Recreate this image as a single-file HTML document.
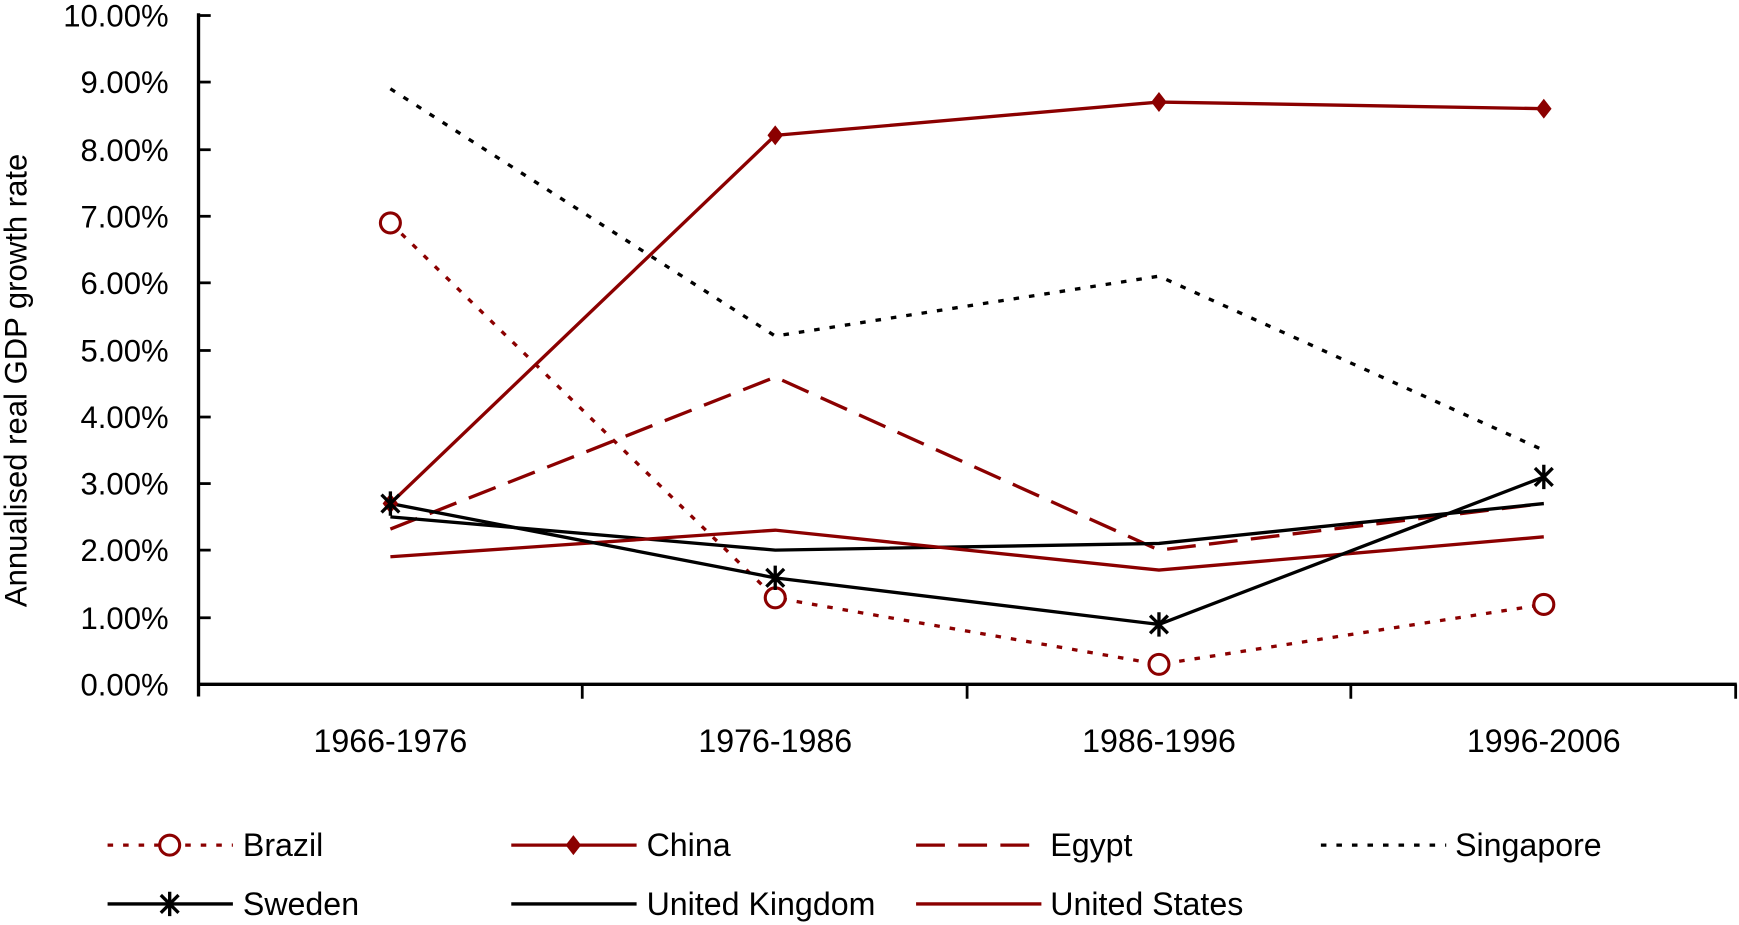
<!DOCTYPE html>
<html><head><style>html,body{margin:0;padding:0;background:#fff}svg{display:block}text{font-family:"Liberation Sans",sans-serif;fill:#000}</style></head>
<body>
<svg width="1739" height="925" viewBox="0 0 1568 834" preserveAspectRatio="none" xmlns="http://www.w3.org/2000/svg">
<defs>
<g id="ci"><circle r="9" fill="#fff" stroke="#8b0000" stroke-width="2.8"/></g>
<g id="di"><path d="M0,-9 L7,0 L0,9 L-7,0Z" fill="#8b0000"/></g>
<g id="st"><path d="M-8,-8L8,8M-8,8L8,-8M0,-11V11" stroke="#000" stroke-width="3"/></g>
</defs>
<g stroke="#000" stroke-width="3">
<line x1="179" y1="12" x2="179" y2="628"/>
<line x1="178" y1="617" x2="1566" y2="617"/>
</g>
<g stroke="#000" stroke-width="2.5">
<line x1="179" y1="14" x2="190" y2="14"/><line x1="179" y1="74" x2="190" y2="74"/><line x1="179" y1="135" x2="190" y2="135"/><line x1="179" y1="195" x2="190" y2="195"/><line x1="179" y1="255" x2="190" y2="255"/><line x1="179" y1="316" x2="190" y2="316"/><line x1="179" y1="376" x2="190" y2="376"/><line x1="179" y1="436" x2="190" y2="436"/><line x1="179" y1="496" x2="190" y2="496"/><line x1="179" y1="557" x2="190" y2="557"/>
<line x1="525" y1="617" x2="525" y2="630"/><line x1="872" y1="617" x2="872" y2="630"/><line x1="1218" y1="617" x2="1218" y2="630"/><line x1="1565" y1="617" x2="1565" y2="630"/>
</g>
<g font-size="28" text-anchor="end">
<text x="152" y="24">10.00%</text><text x="152" y="84">9.00%</text><text x="152" y="145">8.00%</text><text x="152" y="205">7.00%</text><text x="152" y="265">6.00%</text><text x="152" y="326">5.00%</text><text x="152" y="386">4.00%</text><text x="152" y="446">3.00%</text><text x="152" y="506">2.00%</text><text x="152" y="567">1.00%</text><text x="152" y="627">0.00%</text>
</g>
<text transform="translate(24,343) rotate(-90)" font-size="28" text-anchor="middle">Annualised real GDP growth rate</text>
<g font-size="29" text-anchor="middle">
<text x="352" y="678">1966-1976</text><text x="699" y="678">1976-1986</text><text x="1045" y="678">1986-1996</text><text x="1392" y="678">1996-2006</text>
</g>
<g fill="none" stroke-width="3">
<polyline points="352,80 699,303 1045,249 1392,406" stroke="#000" stroke-dasharray="5,9"/>
<polyline points="352,477 699,340 1045,496 1392,454" stroke="#8b0000" stroke-dasharray="26,12"/>
<polyline points="352,466 699,496 1045,490 1392,454" stroke="#000"/>
<polyline points="352,502 699,478 1045,514 1392,484" stroke="#8b0000"/>
<polyline points="352,201 699,539 1045,599 1392,545" stroke="#8b0000" stroke-dasharray="5,9"/>
<polyline points="352,454 699,122 1045,92 1392,98" stroke="#8b0000"/>
<polyline points="352,454 699,521 1045,563 1392,430" stroke="#000"/>
</g>
<use href="#ci" x="352" y="201"/><use href="#ci" x="699" y="539"/><use href="#ci" x="1045" y="599"/><use href="#ci" x="1392" y="545"/>
<use href="#di" x="352" y="454"/><use href="#di" x="699" y="122"/><use href="#di" x="1045" y="92"/><use href="#di" x="1392" y="98"/>
<use href="#st" x="352" y="454"/><use href="#st" x="699" y="521"/><use href="#st" x="1045" y="563"/><use href="#st" x="1392" y="430"/>
<g fill="none" stroke-width="3">
<line x1="97" y1="762" x2="210" y2="762" stroke="#8b0000" stroke-dasharray="5,9"/>
<line x1="461" y1="762" x2="574" y2="762" stroke="#8b0000"/>
<line x1="826" y1="762" x2="939" y2="762" stroke="#8b0000" stroke-dasharray="26,12"/>
<line x1="1191" y1="762" x2="1304" y2="762" stroke="#000" stroke-dasharray="5,9"/>
<line x1="97" y1="815" x2="210" y2="815" stroke="#000"/>
<line x1="461" y1="815" x2="574" y2="815" stroke="#000"/>
<line x1="826" y1="815" x2="939" y2="815" stroke="#8b0000"/>
</g>
<use href="#ci" x="153" y="762"/><use href="#di" x="517" y="762"/><use href="#st" x="153" y="815"/>
<g font-size="29">
<text x="219" y="772">Brazil</text><text x="583" y="772">China</text><text x="947" y="772">Egypt</text><text x="1312" y="772">Singapore</text>
<text x="219" y="825">Sweden</text><text x="583" y="825">United Kingdom</text><text x="947" y="825">United States</text>
</g>
</svg>
</body></html>
